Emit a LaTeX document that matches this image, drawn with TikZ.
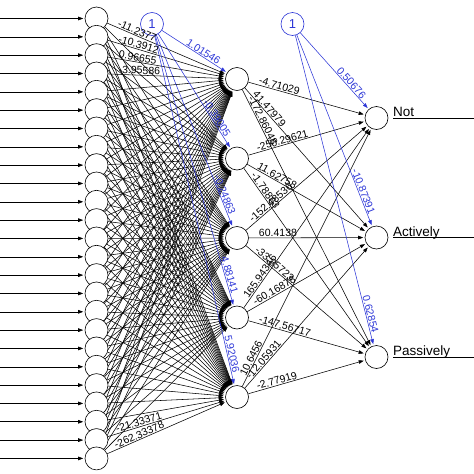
\documentclass[tikz,border=0pt]{standalone}
\usepackage{fontspec}
\setmainfont{Liberation Sans}
\usetikzlibrary{calc,arrows.meta,backgrounds}

\definecolor{biasblue}{RGB}{45,55,215}

\tikzset{
	neuron/.style={circle, draw=black, fill=white, line width=0.6pt, minimum size=23pt, inner sep=0pt},
	biasneuron/.style={neuron, draw=biasblue, text=biasblue, font=\fontsize{13}{14}\selectfont},
	synapse/.style={line width=0.55pt, -{Triangle[length=5pt,width=3.6pt]}, shorten >=1.5pt},
	biassynapse/.style={synapse, draw=biasblue},
	weight/.style={sloped, inner sep=0.8pt, font=\fontsize{10.5}{11}\selectfont},
	biasweight/.style={weight, text=biasblue},
	outlabel/.style={anchor=base west, inner sep=0pt, font=\fontsize{13.5}{14}\selectfont},
}

\begin{document}
\begin{tikzpicture}[x=1pt, y=-1pt]

	% ------------------------------------------------
	% Ensure the dimensions of graphic are appropriate
	\useasboundingbox (0,0) rectangle (474,474);

	% ------------------------------------------------
	% Neurons
	\foreach \k in {1,...,25}
		\node[neuron] (In\k) at (96.5, {18.5+18.33*(\k-1)}) {};
	\foreach \j in {1,...,5}
		\node[neuron] (Hid\j) at (237, {79+79.5*(\j-1)}) {};
	\foreach \i in {1,2,3}
		\node[neuron] (Out\i) at (376.5, {118+119.5*(\i-1)}) {};

	\node[biasneuron] (BiasA) at (152,24) {1};
	\node[biasneuron] (BiasB) at (292.5,24) {1};

	% ----------------
	% Input arrows
	\foreach \k in {1,...,25}{
		\path (In\k) +(-96.5,0) coordinate (InBeg\k);
		\draw[synapse] (InBeg\k) -- (In\k);
	}

	% ----------------
	% Output lines
	\foreach \i/\name in {1/Not,2/Actively,3/Passively}{
		\path (Out\i) +(16.5,0) coordinate (OutBeg\i);
		\path (Out\i) +(97.5,0) coordinate (OutEnd\i);
		\draw[line width=0.6pt] (OutBeg\i) -- (OutEnd\i);
		\node[outlabel] (Lbl\i) at ([yshift=1.5pt]OutBeg\i) {\name};
	}

	%%%%%%%%%%%%%%%%%%%%%%%%%%%%%%%%%%%%%%%%%
	%Connections
	\begin{scope}[on background layer]
		\foreach \k in {1,...,25}
			\foreach \j in {1,...,5}
				\draw[synapse] (In\k) -- (Hid\j);
		\foreach \j in {1,...,5}
			\foreach \i in {1,2,3}
				\draw[synapse] (Hid\j) -- (Out\i);
		\foreach \j in {1,...,5}
			\draw[biassynapse] (BiasA) -- (Hid\j);
		\foreach \i in {1,2,3}
			\draw[biassynapse] (BiasB) -- (Out\i);
	\end{scope}

	% ----------------
	% Weights
	\foreach \k/\j/\w in {1/1/-11.2377, 2/1/-10.3912, 3/1/0.96655, 4/1/-3.95586,
		24/5/-21.33371, 25/5/-262.33378}
		\path (In\k.center) -- ($(In\k)!21pt!(Hid\j)$) node[pos=1, weight, anchor=south west] {\w};

	\foreach \j/\i/\w in {1/1/-4.71029, 1/2/41.47979, 1/3/-172.86048,
		2/1/-250.29621, 2/2/11.62758, 2/3/-1.78863,
		3/1/-152.48536, 3/2/60.4138, 3/3/-33.85723,
		4/1/165.94346, 4/2/-60.16878, 4/3/-147.56717,
		5/1/10.6456, 5/2/-12.05931, 5/3/-2.77919}
		\path (Hid\j.center) -- ($(Hid\j)!21pt!(Out\i)$) node[pos=1, weight, anchor=south west] {\w};

	\foreach \j/\w in {1/1.01546, 2/-0.39005, 3/-0.24863, 4/4.88141, 5/5.92036}
		\path ($(Hid\j)!23pt!(BiasA)$) -- (Hid\j.center) node[pos=0, biasweight, anchor=south east] {\w};

	\foreach \i/\w in {1/0.50676, 2/-10.87391, 3/0.62854}
		\path ($(Out\i)!23pt!(BiasB)$) -- (Out\i.center) node[pos=0, biasweight, anchor=south east] {\w};

\end{tikzpicture}
\end{document}
